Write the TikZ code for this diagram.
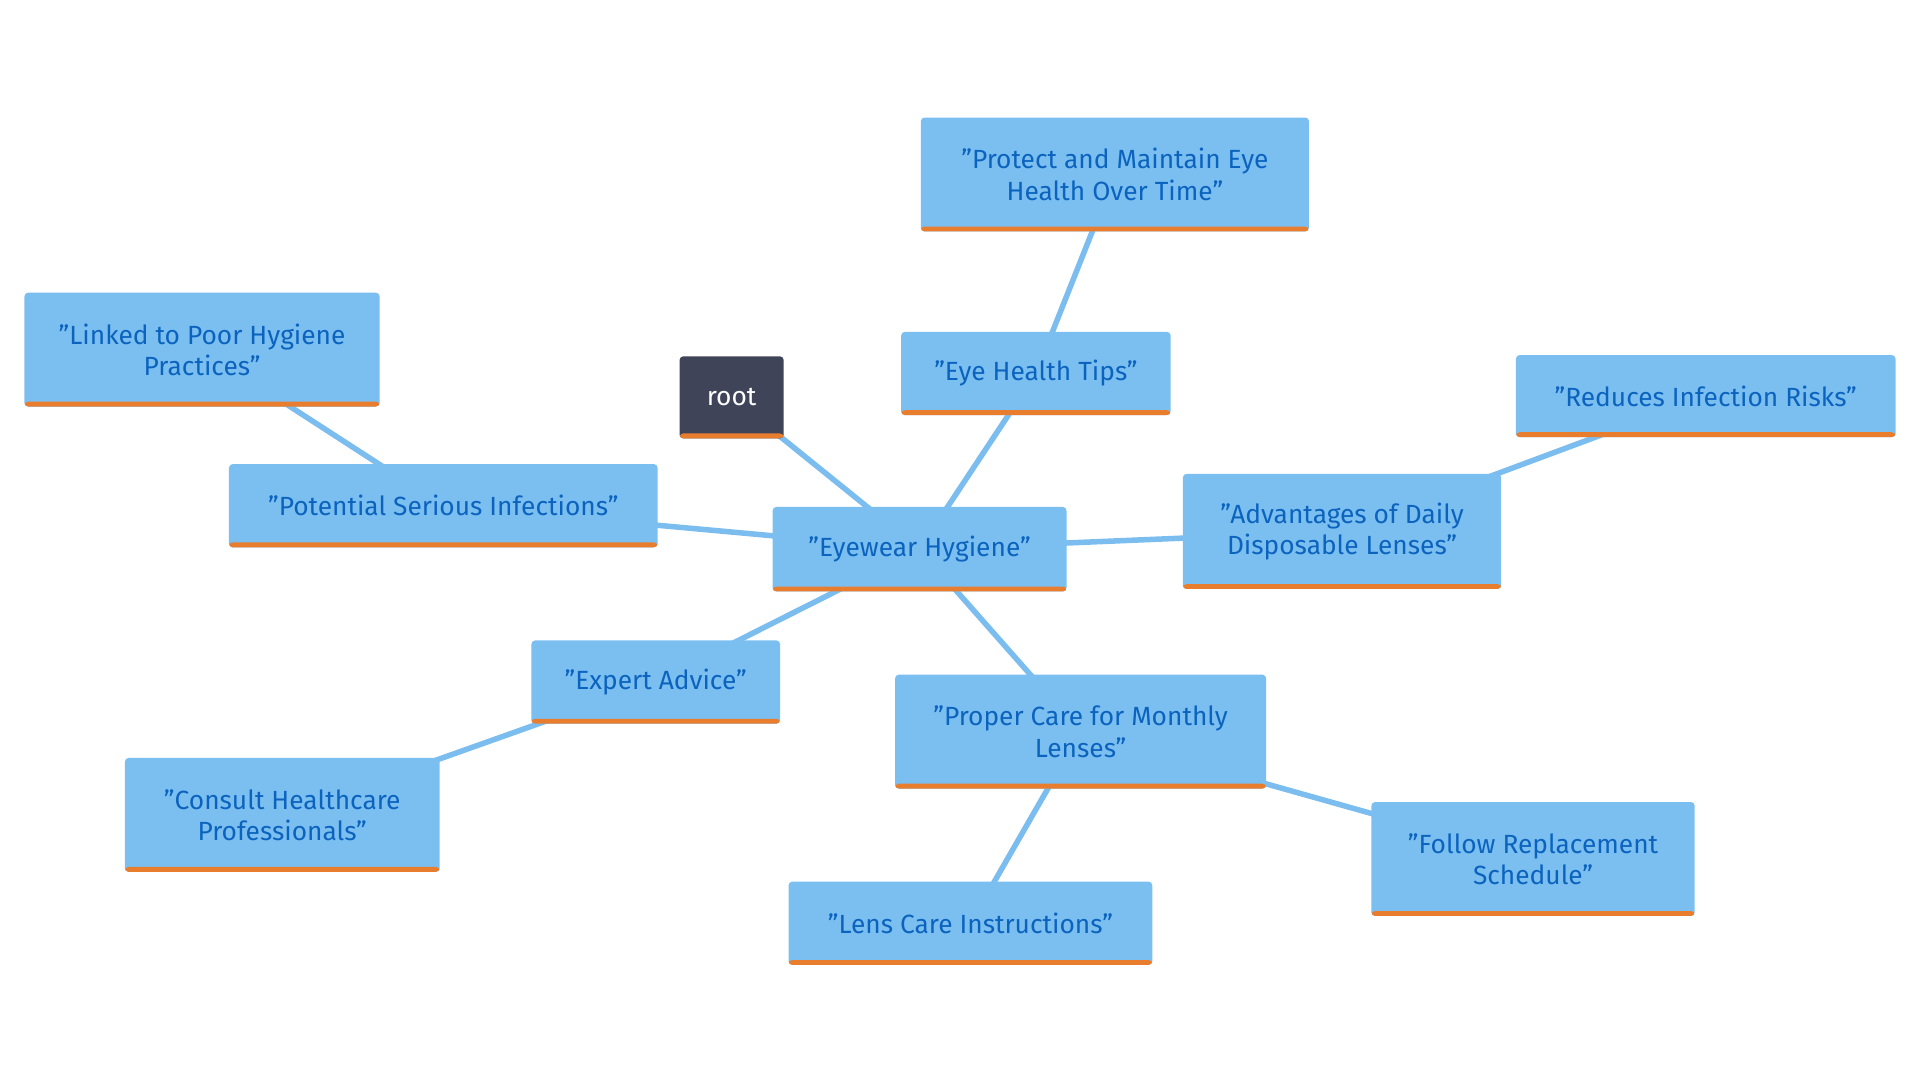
\documentclass[tikz,border=0pt]{standalone}
\usepackage{fontspec}
\setmainfont{Fira Sans}
\usetikzlibrary{backgrounds}
\definecolor{boxfill}{HTML}{7BBFF1}
\definecolor{boxtext}{HTML}{0B63BE}
\definecolor{bar}{HTML}{E87D2E}
\definecolor{edge}{HTML}{7BBDEE}
\definecolor{rootfill}{HTML}{404459}
\tikzset{
  bx/.style={rectangle, rounded corners=3pt, fill=boxfill, text=boxtext, align=center, inner sep=0pt,
    font=\fontsize{21.5}{25.5}\selectfont,
    path picture={\fill[bar] (path picture bounding box.south west) rectangle ([yshift=4pt]path picture bounding box.south east);}},
  rt/.style={bx, fill=rootfill, text=white},
  ln/.style={draw=edge, line width=4.5pt}
}
\newcommand{\mybox}[7]{\node[#1, minimum width={#4-#2}, minimum height={#5-#3}] (#6) at ({(#2+#4)/2},{(#3+#5)/2}) {#7};}
\begin{document}
\begin{tikzpicture}[x=1pt,y=-1pt]
\useasboundingbox (0,0) rectangle (1568,882);
\mybox{bx}{752}{96}{1069}{189}{protect}{"Protect and Maintain Eye\\Health Over Time"}
\mybox{bx}{736}{271}{956}{339}{tips}{"Eye Health Tips"}
\mybox{bx}{20}{239}{310}{332}{linked}{"Linked to Poor Hygiene\\Practices"}
\mybox{rt}{555}{291}{640}{358}{root}{root}
\mybox{bx}{1238}{290}{1548}{357}{reduces}{"Reduces Infection Risks"}
\mybox{bx}{187}{379}{537}{447}{potential}{"Potential Serious Infections"}
\mybox{bx}{631}{414}{871}{483}{eyewear}{"Eyewear Hygiene"}
\mybox{bx}{966}{387}{1226}{481}{adv}{"Advantages of Daily\\Disposable Lenses"}
\mybox{bx}{434}{523}{637}{591}{expert}{"Expert Advice"}
\mybox{bx}{731}{551}{1034}{644}{proper}{"Proper Care for Monthly\\Lenses"}
\mybox{bx}{102}{619}{359}{712}{consult}{"Consult Healthcare\\Professionals"}
\mybox{bx}{1120}{655}{1384}{748}{follow}{"Follow Replacement\\Schedule"}
\mybox{bx}{644}{720}{941}{788}{lens}{"Lens Care Instructions"}
\begin{scope}[on background layer]
\draw[ln] (eyewear.center) -- (root.center);
\draw[ln] (eyewear.center) -- (tips.center);
\draw[ln] (tips.center) -- (protect.center);
\draw[ln] (eyewear.center) -- (potential.center);
\draw[ln] (potential.center) -- (linked.center);
\draw[ln] (eyewear.center) -- (adv.center);
\draw[ln] (adv.center) -- (reduces.center);
\draw[ln] (eyewear.center) -- (expert.center);
\draw[ln] (expert.center) -- (consult.center);
\draw[ln] (eyewear.center) -- (proper.center);
\draw[ln] (proper.center) -- (follow.center);
\draw[ln] (proper.center) -- (lens.center);
\end{scope}
\end{tikzpicture}
\end{document}
